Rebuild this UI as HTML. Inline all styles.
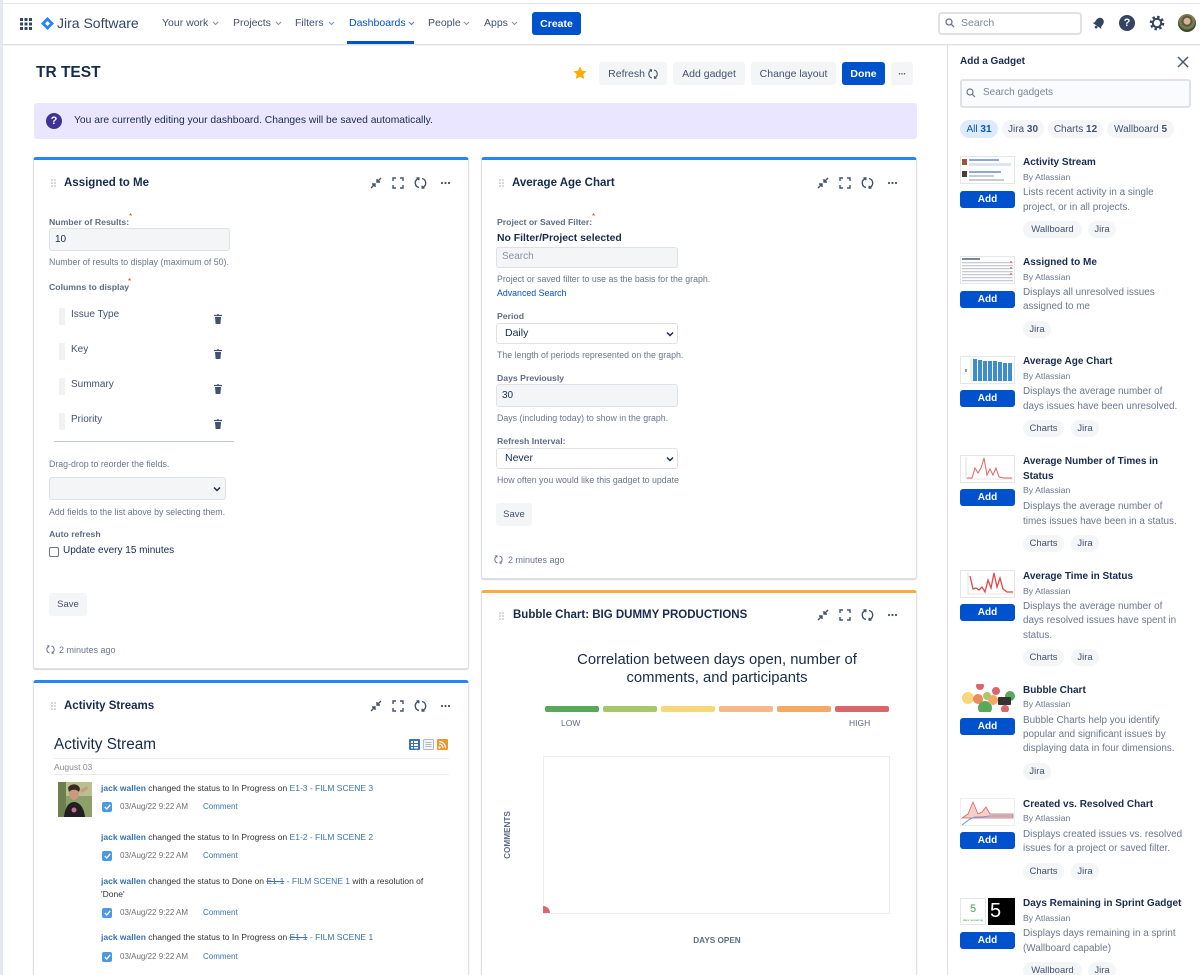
<!DOCTYPE html>
<html><head><meta charset="utf-8">
<style>
*{box-sizing:border-box;margin:0;padding:0}
html,body{width:1200px;height:975px;overflow:hidden}
body{background:#fff;font-family:"Liberation Sans","DejaVu Sans",sans-serif;color:#172b4d}
#root{position:relative;width:1200px;height:975px;overflow:hidden;background:#fff}
.a{position:absolute}
.t{position:absolute;white-space:nowrap;line-height:14px}
.nav{font-size:10.5px;color:#42526e;top:16px}
.btn{position:absolute;background:#f4f5f7;border-radius:3px;color:#42526e;font-size:10.5px;display:flex;align-items:center;justify-content:center;white-space:nowrap}
.panel{position:absolute;border:1px solid #dfe1e6;border-top:3px solid #2684ff;border-radius:3px;box-shadow:0 1px 1px rgba(9,30,66,.18);background:#fff}
.ptitle{position:absolute;white-space:nowrap;font-weight:bold;font-size:11.5px;line-height:16px;color:#172b4d}
.lbl{font-size:8.7px;font-weight:bold;color:#5e6c84}
.help{font-size:8.8px;color:#6b778c}
.star{color:#de350b;font-size:8px}
.inp{position:absolute;background:#f4f5f7;border:1px solid #dfe1e6;border-radius:3px}
.sel{position:absolute;background:#fff;border:1px solid #dfe1e6;border-radius:3px}
.hnd{position:absolute;width:6px;height:17px;background-image:radial-gradient(circle,#c1c7d0 0.6px,transparent 0.7px);background-size:2px 2px}
.act{font-size:8.5px;color:#333;line-height:12px}
.act b{color:#3572b0}
.act a{color:#3b73af;text-decoration:none}
.meta{font-size:8px;color:#707070;line-height:12px}
.cb{position:absolute;width:10px;height:10px;background:#4a9ae1;border-radius:2px}
.st{font-size:10px;font-weight:bold;color:#172b4d}
.by{font-size:8.7px;color:#6b778c}
.ds{font-size:9.9px;color:#6b778c}
.tag{position:absolute;height:17px;background:#f4f5f7;border-radius:9px;font-size:9.5px;color:#42526e;display:flex;align-items:center;justify-content:center}
.add{position:absolute;left:960px;width:55px;height:17px;background:#0052cc;border-radius:3px;color:#fff;font-size:10px;font-weight:bold;display:flex;align-items:center;justify-content:center}
.tab{position:absolute;top:120px;height:18px;border-radius:9px;background:#f4f5f7;color:#42526e;font-size:10px;display:flex;align-items:center;justify-content:center;white-space:nowrap}
.thumb{position:absolute;left:960px}
</style></head><body><div id="root">

<!-- page edges -->
<div class="a" style="left:0;top:0;width:3px;height:975px;background:#e6e9ef"></div>
<div class="a" style="left:3px;top:3px;width:1197px;height:1px;background:#e1e4e8"></div>

<!-- NAV -->
<div class="a" style="left:3px;top:44px;width:1197px;height:1px;background:#dfe1e6"></div>
<div class="a" style="left:3px;top:45px;width:1197px;height:1px;background:#f1f2f4"></div>
<svg class="a" style="left:20px;top:18px" width="12" height="12"><g fill="#344563"><rect x="0" y="0" width="3" height="3"/><rect x="4.5" y="0" width="3" height="3"/><rect x="9" y="0" width="3" height="3"/><rect x="0" y="4.5" width="3" height="3"/><rect x="4.5" y="4.5" width="3" height="3"/><rect x="9" y="4.5" width="3" height="3"/><rect x="0" y="9" width="3" height="3"/><rect x="4.5" y="9" width="3" height="3"/><rect x="9" y="9" width="3" height="3"/></g></svg>
<svg class="a" style="left:41px;top:17px" width="13" height="13"><path d="M6.5 0L13 6.5 6.5 13 0 6.5Z" fill="#2684ff"/><path d="M6.5 4L9 6.5 6.5 9 4 6.5Z" fill="#fff"/></svg>
<div class="t" style="left:57px;top:14px;font-size:14px;line-height:18px;color:#344563">Jira Software</div>

<div class="t nav" style="left:162px">Your work</div>
<svg class="a" style="left:212px;top:21px" width="7" height="5"><path d="M1 1l2.5 2.5L6 1" stroke="#8993a4" fill="none"/></svg>
<div class="t nav" style="left:233px">Projects</div>
<svg class="a" style="left:275px;top:21px" width="7" height="5"><path d="M1 1l2.5 2.5L6 1" stroke="#8993a4" fill="none"/></svg>
<div class="t nav" style="left:295px">Filters</div>
<svg class="a" style="left:328px;top:21px" width="7" height="5"><path d="M1 1l2.5 2.5L6 1" stroke="#8993a4" fill="none"/></svg>
<div class="t nav" style="left:349px;color:#0052cc">Dashboards</div>
<svg class="a" style="left:408px;top:21px" width="7" height="5"><path d="M1 1l2.5 2.5L6 1" stroke="#4c7ad0" fill="none"/></svg>
<div class="a" style="left:347px;top:41px;width:67px;height:3px;background:#0052cc"></div>
<div class="t nav" style="left:428px">People</div>
<svg class="a" style="left:463px;top:21px" width="7" height="5"><path d="M1 1l2.5 2.5L6 1" stroke="#8993a4" fill="none"/></svg>
<div class="t nav" style="left:484px">Apps</div>
<svg class="a" style="left:511px;top:21px" width="7" height="5"><path d="M1 1l2.5 2.5L6 1" stroke="#8993a4" fill="none"/></svg>
<div class="btn" style="left:532px;top:12px;width:49px;height:23px;background:#0052cc;color:#fff;font-weight:bold;font-size:10.5px">Create</div>

<div class="a" style="left:938px;top:12px;width:144px;height:23px;border:2px solid #dfe1e6;border-radius:4px;background:#fff"></div>
<svg class="a" style="left:945px;top:18px" width="10" height="10"><circle cx="4" cy="4" r="3" stroke="#6b778c" stroke-width="1.3" fill="none"/><path d="M6.2 6.2L9 9" stroke="#6b778c" stroke-width="1.3"/></svg>
<div class="t" style="left:961px;top:16px;font-size:10.5px;color:#7a869a">Search</div>
<svg class="a" style="left:1092px;top:16px" width="14" height="14"><g transform="rotate(35 7 7)"><path d="M7 1.5c-2.5 0-4 2-4 4.5v3l-1.3 1.5h10.6L11 9V6c0-2.5-1.5-4.5-4-4.5z" fill="#344563"/><circle cx="7" cy="12" r="1.4" fill="#344563"/></g></svg>
<div class="a" style="left:1119px;top:15px;width:16px;height:16px;border-radius:50%;background:#344563;color:#fff;font-size:11px;font-weight:bold;line-height:16px;text-align:center">?</div>
<svg class="a" style="left:1149px;top:15px" width="16" height="16"><circle cx="8" cy="8" r="6" fill="none" stroke="#344563" stroke-width="2.6" stroke-dasharray="2.4 2.3"/><circle cx="8" cy="8" r="4.2" fill="none" stroke="#344563" stroke-width="2"/></svg>
<div class="a" style="left:1178px;top:14px;width:18px;height:18px;border-radius:50%;background:radial-gradient(circle at 50% 40%,#d8b49a 0 3px,#5a4636 4px,#7d8c5a 7px,#3d4a2a 9px)"></div>

<!-- SIDEBAR -->
<div class="a" style="left:947px;top:45px;width:1px;height:930px;background:#dfe1e6"></div>
<div class="t st" style="left:960px;top:55px">Add a Gadget</div>
<svg class="a" style="left:1177px;top:56px" width="12" height="12"><path d="M1 1l10 10M11 1L1 11" stroke="#42526e" stroke-width="1.4"/></svg>
<div class="a" style="left:960px;top:79px;width:231px;height:29px;border:2px solid #dfe1e6;border-radius:3px;background:#fafbfc"></div>
<svg class="a" style="left:966px;top:88px" width="10" height="10"><circle cx="4" cy="4" r="3" stroke="#6b778c" stroke-width="1.2" fill="none"/><path d="M6.2 6.2L9 9" stroke="#6b778c" stroke-width="1.2"/></svg>
<div class="t" style="left:983px;top:86px;font-size:10px;color:#7a869a">Search gadgets</div>
<div class="tab" style="left:960px;width:38px;background:#deebff;color:#0052cc">All&nbsp;<b>31</b></div>
<div class="tab" style="left:1002px;width:42px">Jira&nbsp;<b>30</b></div>
<div class="tab" style="left:1048px;width:55px">Charts&nbsp;<b>12</b></div>
<div class="tab" style="left:1107px;width:67px">Wallboard&nbsp;<b>5</b></div>

<!-- item 1 -->
<svg class="thumb" style="top:156px" width="55" height="28"><rect x=".5" y=".5" width="54" height="27" fill="#fff" stroke="#e4e6ea"/><rect x="2" y="3" width="5" height="6" fill="#a0523d"/><rect x="9" y="3" width="30" height="2" fill="#8aa9d6"/><rect x="9" y="7" width="42" height="3" fill="#dbe6f5"/><rect x="2" y="15" width="5" height="6" fill="#4a3f36"/><rect x="9" y="15" width="32" height="2" fill="#8aa9d6"/><rect x="9" y="19" width="25" height="2" fill="#c8ccd2"/><rect x="9" y="23" width="35" height="2" fill="#c8ccd2"/></svg>
<div class="add" style="top:191px">Add</div>
<div class="t st" style="left:1023px;top:156px">Activity Stream</div>
<div class="t by" style="left:1023px;top:170px">By Atlassian</div>
<div class="t ds" style="left:1023px;top:186px">Lists recent activity in a single</div>
<div class="t ds" style="left:1023px;top:201px">project, or in all projects.</div>
<div class="tag" style="left:1023px;top:221px;width:59px">Wallboard</div>
<div class="tag" style="left:1088px;top:221px;width:28px">Jira</div>

<!-- item 2 -->
<svg class="thumb" style="top:256px" width="55" height="28"><rect x=".5" y=".5" width="54" height="27" fill="#fff" stroke="#e4e6ea"/><rect x="2" y="2" width="18" height="2" fill="#7a869a"/><g fill="#c5cbd5"><rect x="2" y="6" width="51" height="1.3"/><rect x="2" y="9" width="51" height="1.3"/><rect x="2" y="12" width="51" height="1.3"/><rect x="2" y="15" width="51" height="1.3"/><rect x="2" y="18" width="51" height="1.3"/><rect x="2" y="21" width="51" height="1.3"/><rect x="2" y="24" width="51" height="1.3"/></g><g fill="#e58b7a"><rect x="50" y="5" width="2" height="2"/><rect x="50" y="11" width="2" height="2"/><rect x="50" y="17" width="2" height="2"/></g></svg>
<div class="add" style="top:291px">Add</div>
<div class="t st" style="left:1023px;top:256px">Assigned to Me</div>
<div class="t by" style="left:1023px;top:270px">By Atlassian</div>
<div class="t ds" style="left:1023px;top:286px">Displays all unresolved issues</div>
<div class="t ds" style="left:1023px;top:300px">assigned to me</div>
<div class="tag" style="left:1023px;top:321px;width:28px">Jira</div>

<!-- item 3 -->
<svg class="thumb" style="top:356px" width="55" height="28"><rect x=".5" y=".5" width="54" height="27" fill="#fff" stroke="#e4e6ea"/><path d="M11 3V25H53" stroke="#ccc" fill="none" stroke-width=".6"/><g fill="#3e8ecb"><rect x="13" y="3" width="4" height="22"/><rect x="18" y="4" width="4" height="21"/><rect x="23" y="5" width="4" height="20"/><rect x="28" y="5" width="4" height="20"/><rect x="33" y="5" width="4" height="20"/><rect x="38" y="6" width="4" height="19"/><rect x="43" y="7" width="4" height="18"/><rect x="48" y="7" width="4" height="18"/></g><rect x="5" y="13" width="2" height="3" fill="#999"/></svg>
<div class="add" style="top:390px">Add</div>
<div class="t st" style="left:1023px;top:355px">Average Age Chart</div>
<div class="t by" style="left:1023px;top:369px">By Atlassian</div>
<div class="t ds" style="left:1023px;top:385px">Displays the average number of</div>
<div class="t ds" style="left:1023px;top:400px">days issues have been unresolved.</div>
<div class="tag" style="left:1023px;top:420px;width:41px">Charts</div>
<div class="tag" style="left:1071px;top:420px;width:28px">Jira</div>

<!-- item 4 -->
<svg class="thumb" style="top:455px" width="55" height="28"><rect x=".5" y=".5" width="54" height="27" fill="#fff" stroke="#e4e6ea"/><path d="M6 2V24H53" stroke="#ccc" fill="none" stroke-width=".6"/><polyline points="7,23 12,23 15,13 18,18 21,13 24,3 27,20 30,14 33,20 36,13 39,22 44,23 52,23" stroke="#e06464" fill="none" stroke-width="1"/></svg>
<div class="add" style="top:489px">Add</div>
<div class="t st" style="left:1023px;top:455px">Average Number of Times in</div>
<div class="t st" style="left:1023px;top:470px">Status</div>
<div class="t by" style="left:1023px;top:483px">By Atlassian</div>
<div class="t ds" style="left:1023px;top:500px">Displays the average number of</div>
<div class="t ds" style="left:1023px;top:515px">times issues have been in a status.</div>
<div class="tag" style="left:1023px;top:535px;width:41px">Charts</div>
<div class="tag" style="left:1071px;top:535px;width:28px">Jira</div>

<!-- item 5 -->
<svg class="thumb" style="top:570px" width="55" height="28"><rect x=".5" y=".5" width="54" height="27" fill="#fff" stroke="#e4e6ea"/><path d="M8 2V24H53" stroke="#ccc" fill="none" stroke-width=".6"/><polyline points="10,6 13,19 16,18 19,20 22,17 25,22 28,10 31,18 34,3 37,17 40,8 43,19 47,22 53,22" stroke="#e04848" fill="none" stroke-width="1.3"/></svg>
<div class="add" style="top:604px">Add</div>
<div class="t st" style="left:1023px;top:570px">Average Time in Status</div>
<div class="t by" style="left:1023px;top:584px">By Atlassian</div>
<div class="t ds" style="left:1023px;top:600px">Displays the average number of</div>
<div class="t ds" style="left:1023px;top:614px">days resolved issues have spent in</div>
<div class="t ds" style="left:1023px;top:629px">status.</div>
<div class="tag" style="left:1023px;top:649px;width:41px">Charts</div>
<div class="tag" style="left:1071px;top:649px;width:28px">Jira</div>

<!-- item 6 -->
<svg class="thumb" style="top:684px" width="55" height="28"><rect width="55" height="28" fill="#fff"/><circle cx="20" cy="2" r="4" fill="#d9676a"/><circle cx="8" cy="14" r="6" fill="#f6d77a"/><circle cx="18" cy="15" r="5" fill="#e88c5a"/><circle cx="27" cy="12" r="4" fill="#a8c66a"/><circle cx="25" cy="24" r="7" fill="#5aa85c"/><circle cx="36" cy="7" r="4" fill="#d9676a"/><circle cx="33" cy="16" r="5" fill="#f4a866"/><circle cx="50" cy="12" r="5" fill="#5aa85c"/><rect x="38" y="13" width="13" height="8" rx="1" fill="#333"/><circle cx="45" cy="25" r="4" fill="#d9676a"/></svg>
<div class="add" style="top:718px">Add</div>
<div class="t st" style="left:1023px;top:684px">Bubble Chart</div>
<div class="t by" style="left:1023px;top:697px">By Atlassian</div>
<div class="t ds" style="left:1023px;top:714px">Bubble Charts help you identify</div>
<div class="t ds" style="left:1023px;top:728px">popular and significant issues by</div>
<div class="t ds" style="left:1023px;top:742px">displaying data in four dimensions.</div>
<div class="tag" style="left:1023px;top:763px;width:28px">Jira</div>

<!-- item 7 -->
<svg class="thumb" style="top:798px" width="55" height="28"><rect x=".5" y=".5" width="54" height="27" fill="#fff" stroke="#eceef1"/><path d="M2 20L8 16L13 4L18 16L22 14L26 9L30 16L53 16L53 20Z" fill="#f6cfc8" stroke="#e06060" stroke-width=".8"/><polyline points="2,27 10,21 15,19 22,19 30,18 53,18" stroke="#6b9bd6" fill="none" stroke-width="1"/></svg>
<div class="add" style="top:832px">Add</div>
<div class="t st" style="left:1023px;top:798px">Created vs. Resolved Chart</div>
<div class="t by" style="left:1023px;top:811px">By Atlassian</div>
<div class="t ds" style="left:1023px;top:828px">Displays created issues vs. resolved</div>
<div class="t ds" style="left:1023px;top:842px">issues for a project or saved filter.</div>
<div class="tag" style="left:1023px;top:863px;width:41px">Charts</div>
<div class="tag" style="left:1071px;top:863px;width:28px">Jira</div>

<!-- item 8 -->
<div class="a" style="left:960px;top:898px;width:26px;height:27px;border:1px solid #e4e6ea;background:#fff;color:#3fa34d;font-size:11px;text-align:center;line-height:20px">5<div style="font-size:3px;line-height:3px;color:#3fa34d">days remaining</div></div>
<div class="a" style="left:988px;top:898px;width:27px;height:27px;background:#000;color:#fff;font-size:20px;line-height:27px;padding-left:2px">5</div>
<div class="add" style="top:932px">Add</div>
<div class="t st" style="left:1023px;top:897px">Days Remaining in Sprint Gadget</div>
<div class="t by" style="left:1023px;top:911px">By Atlassian</div>
<div class="t ds" style="left:1023px;top:927px">Displays days remaining in a sprint</div>
<div class="t ds" style="left:1023px;top:942px">(Wallboard capable)</div>
<div class="tag" style="left:1023px;top:962px;width:59px">Wallboard</div>
<div class="tag" style="left:1088px;top:962px;width:28px">Jira</div>

<!-- HEADER -->
<div class="t" style="left:36px;top:63px;font-size:15.5px;line-height:20px;font-weight:bold;color:#172b4d">TR TEST</div>
<svg class="a" style="left:573px;top:66px" width="14" height="14"><path d="M7 .5l2 4.3 4.6.5-3.4 3.1 1 4.6L7 10.7 2.8 13l1-4.6L.4 5.3 5 4.8z" fill="#ffab00"/></svg>
<div class="btn" style="left:599px;top:62px;width:68px;height:23px">Refresh&nbsp;<svg width="10" height="10"><path d="M3 1.5A4 4 0 0 0 4 9M7 8.5A4 4 0 0 0 6 1M1.5 0.8h2v2M8.5 9.2h-2v-2" stroke="#42526e" stroke-width="1.1" fill="none"/></svg></div>
<div class="btn" style="left:673px;top:62px;width:72px;height:23px">Add gadget</div>
<div class="btn" style="left:751px;top:62px;width:85px;height:23px">Change layout</div>
<div class="btn" style="left:842px;top:62px;width:43px;height:23px;background:#0052cc;color:#fff;font-weight:bold">Done</div>
<div class="btn" style="left:891px;top:62px;width:22px;height:23px;font-weight:bold;font-size:9px;letter-spacing:-.5px">···</div>

<div class="a" style="left:34px;top:103px;width:883px;height:36px;background:#eae6ff;border-radius:3px"></div>
<div class="a" style="left:46px;top:113px;width:16px;height:16px;border-radius:50%;background:#403294;color:#fff;font-size:11px;font-weight:bold;line-height:16px;text-align:center">?</div>
<div class="t" style="left:74px;top:114px;font-size:10.3px;color:#172b4d">You are currently editing your dashboard. Changes will be saved automatically.</div>

<!-- PANEL 1 : Assigned to Me -->
<div class="panel" style="left:33px;top:157px;width:436px;height:512px"></div>
<svg class="a" style="left:51px;top:179px" width="5" height="8"><g fill="#a5adba"><circle cx="1" cy="1" r=".8"/><circle cx="4" cy="1" r=".8"/><circle cx="1" cy="4" r=".8"/><circle cx="4" cy="4" r=".8"/><circle cx="1" cy="7" r=".8"/><circle cx="4" cy="7" r=".8"/></g></svg>
<div class="ptitle" style="left:64px;top:175px">Assigned to Me</div>
<svg class="a" style="left:369px;top:176px" width="90" height="14"><g stroke="#42526e" stroke-width="1.4" fill="none"><path d="M2 12l4-4M3 8h3v3M12 2L8 6M8 3v3h3"/><path d="M24 5V2h3M31 2h3v3M34 9v3h-3M27 12h-3V9"/><path d="M49 2.8A4.6 4.6 0 0 0 50 11.5M54 11.2A4.6 4.6 0 0 0 53 2.5M47.5 2h2.3v2.3M55.5 12h-2.3V9.7"/></g><g fill="#42526e"><circle cx="73" cy="7" r="1.1"/><circle cx="76.5" cy="7" r="1.1"/><circle cx="80" cy="7" r="1.1"/></g></svg>

<div class="t lbl" style="left:49px;top:215px">Number of Results:</div><div class="t star" style="left:129px;top:210px">*</div>
<div class="inp" style="left:49px;top:228px;width:181px;height:23px"></div>
<div class="t" style="left:55px;top:233px;font-size:10px">10</div>
<div class="t help" style="left:49px;top:255px">Number of results to display (maximum of 50).</div>
<div class="t lbl" style="left:49px;top:280px">Columns to display</div><div class="t star" style="left:128px;top:275px">*</div>

<div class="hnd" style="left:59px;top:308px"></div><div class="t" style="left:71px;top:308px;font-size:10px;color:#42526e">Issue Type</div>
<div class="hnd" style="left:59px;top:343px"></div><div class="t" style="left:71px;top:343px;font-size:10px;color:#42526e">Key</div>
<div class="hnd" style="left:59px;top:378px"></div><div class="t" style="left:71px;top:378px;font-size:10px;color:#42526e">Summary</div>
<div class="hnd" style="left:59px;top:413px"></div><div class="t" style="left:71px;top:413px;font-size:10px;color:#42526e">Priority</div>
<svg class="a" style="left:214px;top:314px" width="8" height="10"><path d="M0 1.5h8M3 0h2" stroke="#42526e" stroke-width="1.2"/><path d="M1 3h6l-.6 7H1.6z" fill="#42526e"/></svg>
<svg class="a" style="left:214px;top:349px" width="8" height="10"><path d="M0 1.5h8M3 0h2" stroke="#42526e" stroke-width="1.2"/><path d="M1 3h6l-.6 7H1.6z" fill="#42526e"/></svg>
<svg class="a" style="left:214px;top:384px" width="8" height="10"><path d="M0 1.5h8M3 0h2" stroke="#42526e" stroke-width="1.2"/><path d="M1 3h6l-.6 7H1.6z" fill="#42526e"/></svg>
<svg class="a" style="left:214px;top:419px" width="8" height="10"><path d="M0 1.5h8M3 0h2" stroke="#42526e" stroke-width="1.2"/><path d="M1 3h6l-.6 7H1.6z" fill="#42526e"/></svg>
<div class="a" style="left:54px;top:441px;width:180px;height:1px;background:#c1c7d0"></div>

<div class="t help" style="left:49px;top:457px">Drag-drop to reorder the fields.</div>
<div class="inp" style="left:49px;top:477px;width:177px;height:23px"></div>
<svg class="a" style="left:213px;top:486px" width="8" height="6"><path d="M1 1.5l3 3 3-3" stroke="#172b4d" stroke-width="1.5" fill="none"/></svg>
<div class="t help" style="left:49px;top:505px">Add fields to the list above by selecting them.</div>
<div class="t lbl" style="left:49px;top:527px">Auto refresh</div>
<div class="a" style="left:49px;top:547px;width:10px;height:10px;border:1px solid #6b778c;border-radius:2px;background:#fff"></div>
<div class="t" style="left:63px;top:544px;font-size:10px;color:#172b4d">Update every 15 minutes</div>
<div class="btn" style="left:49px;top:593px;width:38px;height:23px;font-size:9.5px">Save</div>
<svg class="a" style="left:46px;top:645px" width="9" height="9"><path d="M2.5 1.5A3.6 3.6 0 0 0 3.5 8M6.5 7.5A3.6 3.6 0 0 0 5.5 1M1.3 .8h1.6v1.6M7.7 8.2H6.1V6.6" stroke="#6b778c" stroke-width="1" fill="none"/></svg>
<div class="t" style="left:59px;top:643px;font-size:9px;color:#6b778c">2 minutes ago</div>

<!-- PANEL 2 : Activity Streams -->
<div class="panel" style="left:33px;top:680px;width:436px;height:320px"></div>
<svg class="a" style="left:51px;top:702px" width="5" height="8"><g fill="#a5adba"><circle cx="1" cy="1" r=".8"/><circle cx="4" cy="1" r=".8"/><circle cx="1" cy="4" r=".8"/><circle cx="4" cy="4" r=".8"/><circle cx="1" cy="7" r=".8"/><circle cx="4" cy="7" r=".8"/></g></svg>
<div class="ptitle" style="left:64px;top:698px">Activity Streams</div>
<svg class="a" style="left:369px;top:699px" width="90" height="14"><g stroke="#42526e" stroke-width="1.4" fill="none"><path d="M2 12l4-4M3 8h3v3M12 2L8 6M8 3v3h3"/><path d="M24 5V2h3M31 2h3v3M34 9v3h-3M27 12h-3V9"/><path d="M49 2.8A4.6 4.6 0 0 0 50 11.5M54 11.2A4.6 4.6 0 0 0 53 2.5M47.5 2h2.3v2.3M55.5 12h-2.3V9.7"/></g><g fill="#42526e"><circle cx="73" cy="7" r="1.1"/><circle cx="76.5" cy="7" r="1.1"/><circle cx="80" cy="7" r="1.1"/></g></svg>

<div class="t" style="left:54px;top:736px;font-size:15.3px;line-height:18px;color:#172b4d">Activity Stream</div>
<svg class="a" style="left:409px;top:739px" width="40" height="12"><rect x="0" y="0" width="11" height="11" rx="1" fill="#3b73af"/><g fill="#fff"><rect x="2" y="2" width="2" height="2"/><rect x="5" y="2" width="4" height="2"/><rect x="2" y="5" width="2" height="2"/><rect x="5" y="5" width="4" height="2"/><rect x="2" y="8" width="2" height="1.5"/><rect x="5" y="8" width="4" height="1.5"/></g><rect x="14.5" y=".5" width="10" height="10" rx="1" fill="#f4f5f7" stroke="#b3b9c4"/><g fill="#b3b9c4"><rect x="16.5" y="3" width="6" height="1"/><rect x="16.5" y="5" width="6" height="1"/><rect x="16.5" y="7" width="6" height="1"/></g><rect x="28" y="0" width="11" height="11" rx="1.5" fill="#f0932b"/><circle cx="30.5" cy="8.5" r="1.2" fill="#fff"/><path d="M30 5a4 4 0 0 1 4 4M30 2.5a6.5 6.5 0 0 1 6.5 6.5" stroke="#fff" stroke-width="1.2" fill="none"/></svg>
<div class="a" style="left:54px;top:758px;width:395px;height:1px;background:#ebecf0"></div>
<div class="t" style="left:54px;top:760px;font-size:8.5px;color:#8a8a8a">August 03</div>
<div class="a" style="left:54px;top:774px;width:395px;height:1px;background:#ebecf0"></div>
<svg class="a" style="left:58px;top:782px" width="34" height="35"><rect width="34" height="35" fill="#8da06a"/><rect width="34" height="14" fill="#b7c08e"/><rect x="0" y="0" width="8" height="35" fill="#6d7f4c"/><ellipse cx="16" cy="12" rx="5" ry="6" fill="#c99a80"/><path d="M10 6c2-5 11-5 12 1l-1 3c-2-3-8-3-10 0z" fill="#3a2a20"/><path d="M6 35c1-10 5-15 10-15s10 5 11 15z" fill="#221e22"/><circle cx="16" cy="28" r="2.5" fill="#c36f9a"/><path d="M22 8l7-4 1 3-6 4z" fill="#c99a80"/></svg>

<div class="t act" style="left:101px;top:782px"><b>jack wallen</b> changed the status to In Progress on <a>E1-3 - FILM SCENE 3</a></div>
<div class="cb" style="left:102px;top:802px"></div><svg class="a" style="left:104px;top:804px" width="7" height="6"><path d="M.8 3l2 2L6.2.8" stroke="#fff" stroke-width="1.3" fill="none"/></svg>
<div class="t meta" style="left:120px;top:801px">03/Aug/22 9:22 AM</div><div class="t meta" style="left:203px;top:801px;color:#3b73af">Comment</div>

<div class="t act" style="left:101px;top:831px"><b>jack wallen</b> changed the status to In Progress on <a>E1-2 - FILM SCENE 2</a></div>
<div class="cb" style="left:102px;top:851px"></div><svg class="a" style="left:104px;top:853px" width="7" height="6"><path d="M.8 3l2 2L6.2.8" stroke="#fff" stroke-width="1.3" fill="none"/></svg>
<div class="t meta" style="left:120px;top:850px">03/Aug/22 9:22 AM</div><div class="t meta" style="left:203px;top:850px;color:#3b73af">Comment</div>

<div class="t act" style="left:101px;top:875px"><b>jack wallen</b> changed the status to Done on <a><s>E1-1</s> - FILM SCENE 1</a> with a resolution of</div>
<div class="t act" style="left:101px;top:888px">'Done'</div>
<div class="cb" style="left:102px;top:908px"></div><svg class="a" style="left:104px;top:910px" width="7" height="6"><path d="M.8 3l2 2L6.2.8" stroke="#fff" stroke-width="1.3" fill="none"/></svg>
<div class="t meta" style="left:120px;top:907px">03/Aug/22 9:22 AM</div><div class="t meta" style="left:203px;top:907px;color:#3b73af">Comment</div>

<div class="t act" style="left:101px;top:931px"><b>jack wallen</b> changed the status to In Progress on <a><s>E1-1</s> - FILM SCENE 1</a></div>
<div class="cb" style="left:102px;top:952px"></div><svg class="a" style="left:104px;top:954px" width="7" height="6"><path d="M.8 3l2 2L6.2.8" stroke="#fff" stroke-width="1.3" fill="none"/></svg>
<div class="t meta" style="left:120px;top:951px">03/Aug/22 9:22 AM</div><div class="t meta" style="left:203px;top:951px;color:#3b73af">Comment</div>

<!-- PANEL 3 : Average Age Chart -->
<div class="panel" style="left:481px;top:157px;width:436px;height:422px"></div>
<svg class="a" style="left:499px;top:179px" width="5" height="8"><g fill="#a5adba"><circle cx="1" cy="1" r=".8"/><circle cx="4" cy="1" r=".8"/><circle cx="1" cy="4" r=".8"/><circle cx="4" cy="4" r=".8"/><circle cx="1" cy="7" r=".8"/><circle cx="4" cy="7" r=".8"/></g></svg>
<div class="ptitle" style="left:512px;top:175px">Average Age Chart</div>
<svg class="a" style="left:816px;top:176px" width="90" height="14"><g stroke="#42526e" stroke-width="1.4" fill="none"><path d="M2 12l4-4M3 8h3v3M12 2L8 6M8 3v3h3"/><path d="M24 5V2h3M31 2h3v3M34 9v3h-3M27 12h-3V9"/><path d="M49 2.8A4.6 4.6 0 0 0 50 11.5M54 11.2A4.6 4.6 0 0 0 53 2.5M47.5 2h2.3v2.3M55.5 12h-2.3V9.7"/></g><g fill="#42526e"><circle cx="73" cy="7" r="1.1"/><circle cx="76.5" cy="7" r="1.1"/><circle cx="80" cy="7" r="1.1"/></g></svg>

<div class="t lbl" style="left:497px;top:215px">Project or Saved Filter:</div><div class="t star" style="left:592px;top:210px">*</div>
<div class="t" style="left:497px;top:231px;font-size:10.4px;line-height:16px;font-weight:bold;color:#172b4d">No Filter/Project selected</div>
<div class="inp" style="left:496px;top:247px;width:182px;height:21px"></div>
<div class="t" style="left:502px;top:250px;font-size:10px;color:#8993a4">Search</div>
<div class="t help" style="left:497px;top:272px">Project or saved filter to use as the basis for the graph.</div>
<div class="t" style="left:497px;top:286px;font-size:8.8px;color:#0052cc">Advanced Search</div>
<div class="t lbl" style="left:497px;top:309px">Period</div>
<div class="sel" style="left:496px;top:323px;width:182px;height:21px"></div>
<div class="t" style="left:505px;top:326px;font-size:10.5px;color:#172b4d">Daily</div>
<svg class="a" style="left:666px;top:331px" width="8" height="6"><path d="M1 1.5l3 3 3-3" stroke="#172b4d" stroke-width="1.5" fill="none"/></svg>
<div class="t help" style="left:497px;top:348px">The length of periods represented on the graph.</div>
<div class="t lbl" style="left:497px;top:371px">Days Previously</div>
<div class="inp" style="left:496px;top:384px;width:182px;height:23px"></div>
<div class="t" style="left:502px;top:389px;font-size:10px">30</div>
<div class="t help" style="left:497px;top:411px">Days (including today) to show in the graph.</div>
<div class="t lbl" style="left:497px;top:434px">Refresh Interval:</div>
<div class="sel" style="left:496px;top:448px;width:182px;height:21px"></div>
<div class="t" style="left:505px;top:451px;font-size:10.5px;color:#172b4d">Never</div>
<svg class="a" style="left:666px;top:456px" width="8" height="6"><path d="M1 1.5l3 3 3-3" stroke="#172b4d" stroke-width="1.5" fill="none"/></svg>
<div class="t help" style="left:497px;top:473px">How often you would like this gadget to update</div>
<div class="btn" style="left:496px;top:503px;width:36px;height:23px;font-size:9.5px">Save</div>
<svg class="a" style="left:494px;top:555px" width="9" height="9"><path d="M2.5 1.5A3.6 3.6 0 0 0 3.5 8M6.5 7.5A3.6 3.6 0 0 0 5.5 1M1.3 .8h1.6v1.6M7.7 8.2H6.1V6.6" stroke="#6b778c" stroke-width="1" fill="none"/></svg>
<div class="t" style="left:508px;top:553px;font-size:9px;color:#6b778c">2 minutes ago</div>

<!-- PANEL 4 : Bubble Chart -->
<div class="panel" style="left:481px;top:590px;width:436px;height:400px;border-top-color:#f6ad3d"></div>
<svg class="a" style="left:499px;top:612px" width="5" height="8"><g fill="#a5adba"><circle cx="1" cy="1" r=".8"/><circle cx="4" cy="1" r=".8"/><circle cx="1" cy="4" r=".8"/><circle cx="4" cy="4" r=".8"/><circle cx="1" cy="7" r=".8"/><circle cx="4" cy="7" r=".8"/></g></svg>
<div class="ptitle" style="left:513px;top:607px">Bubble Chart: BIG DUMMY PRODUCTIONS</div>
<svg class="a" style="left:816px;top:608px" width="90" height="14"><g stroke="#42526e" stroke-width="1.4" fill="none"><path d="M2 12l4-4M3 8h3v3M12 2L8 6M8 3v3h3"/><path d="M24 5V2h3M31 2h3v3M34 9v3h-3M27 12h-3V9"/><path d="M49 2.8A4.6 4.6 0 0 0 50 11.5M54 11.2A4.6 4.6 0 0 0 53 2.5M47.5 2h2.3v2.3M55.5 12h-2.3V9.7"/></g><g fill="#42526e"><circle cx="73" cy="7" r="1.1"/><circle cx="76.5" cy="7" r="1.1"/><circle cx="80" cy="7" r="1.1"/></g></svg>

<div class="a" style="left:481px;top:651px;width:472px;text-align:center;font-size:14.8px;line-height:18px;color:#172b4d">Correlation between days open, number of<br>comments, and participants</div>
<svg class="a" style="left:545px;top:706px" width="345" height="7"><g><rect x="0" y="0" width="54" height="6" rx="2" fill="#5aa85c"/><rect x="58" y="0" width="54" height="6" rx="2" fill="#a8c66a"/><rect x="116" y="0" width="54" height="6" rx="2" fill="#f6d77a"/><rect x="174" y="0" width="54" height="6" rx="2" fill="#f4b88a"/><rect x="232" y="0" width="54" height="6" rx="2" fill="#f4a866"/><rect x="290" y="0" width="54" height="6" rx="2" fill="#d9676a"/></g></svg>
<div class="a" style="left:561px;top:718px;font-size:8.5px;line-height:10px;color:#5e6c84;white-space:nowrap">LOW</div>
<div class="a" style="left:849px;top:718px;font-size:8.5px;line-height:10px;color:#5e6c84;white-space:nowrap">HIGH</div>
<div class="a" style="left:543px;top:756px;width:347px;height:158px;border:1px solid #ebecf0"></div>
<svg class="a" style="left:543px;top:906px" width="8" height="8"><path d="M0 0A7 7 0 0 1 7 7H0Z" fill="#d9676a"/></svg>
<div class="a" style="left:478px;top:829px;width:60px;text-align:center;font-size:8.2px;line-height:12px;font-weight:bold;color:#5e6c84;transform:rotate(-90deg);white-space:nowrap">COMMENTS</div>
<div class="a" style="left:667px;top:936px;width:100px;text-align:center;font-size:8.2px;line-height:10px;font-weight:bold;color:#5e6c84;white-space:nowrap">DAYS OPEN</div>

</div></body></html>
